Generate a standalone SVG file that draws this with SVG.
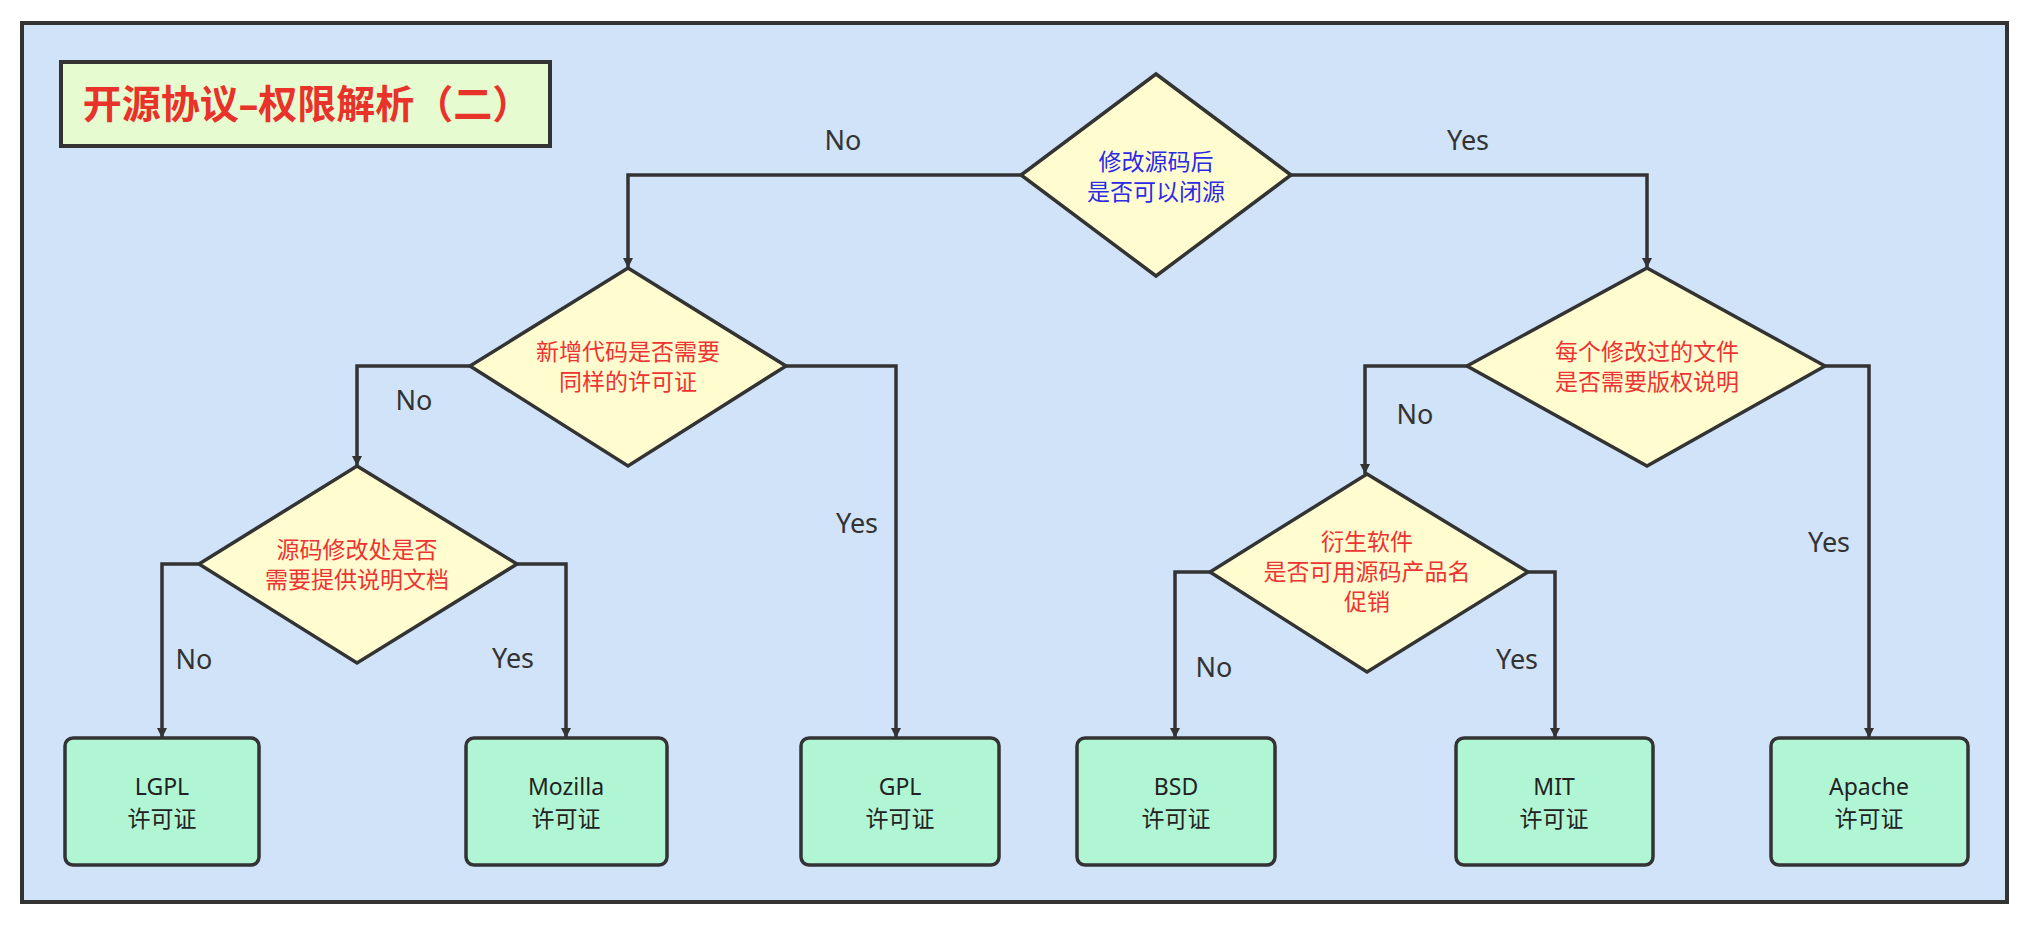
<svg xmlns="http://www.w3.org/2000/svg" width="2030" height="930" viewBox="0 0 2030 930">
<defs>
<marker id="ah" viewBox="0 0 10 10" refX="10" refY="5" markerWidth="10" markerHeight="20" markerUnits="userSpaceOnUse" orient="auto"><path d="M0,0 L10,5 L0,10 z" fill="#333"/></marker>
<style>
text{font-family:"Noto Sans","Noto Sans CJK SC",sans-serif;text-anchor:middle}
.d{fill:#fffdd0;stroke:#333;stroke-width:3.5}
.b{fill:#b1f6d4;stroke:#333;stroke-width:3.5}
.dt{fill:#ee3333;font-size:23px}
.bt{fill:#222;font-size:23px}
.l{fill:#333;font-size:27px}
.c{fill:none;stroke:#333;stroke-width:3.5;marker-end:url(#ah)}
</style>
</defs>
<rect x="0" y="0" width="2030" height="930" fill="#fff"/>
<rect x="22" y="23" width="1985" height="879" fill="#d0e3f9" stroke="#333" stroke-width="4"/>
<g id="title"><rect x="61" y="62" width="489" height="84" fill="#e7fbd0" stroke="#333" stroke-width="4"/><text x="307" y="118" fill="#e8322a" font-size="39" font-weight="bold">开源协议–权限解析（二）</text></g>
<g id="connectors">
<path class="c" d="M1021,175 H628 V268"/>
<path class="c" d="M1291,175 H1647 V268"/>
<path class="c" d="M470,366 H357 V466"/>
<path class="c" d="M786,366 H896 V738"/>
<path class="c" d="M199,564 H162 V738"/>
<path class="c" d="M517,564 H566 V738"/>
<path class="c" d="M1467,366 H1365 V474"/>
<path class="c" d="M1825,366 H1869 V738"/>
<path class="c" d="M1210,572 H1175 V738"/>
<path class="c" d="M1528,572 H1555 V738"/>
<text class="l" x="843" y="150">No</text>
<text class="l" x="1468" y="150">Yes</text>
<text class="l" x="414" y="410">No</text>
<text class="l" x="857" y="533">Yes</text>
<text class="l" x="194" y="669">No</text>
<text class="l" x="513" y="668">Yes</text>
<text class="l" x="1415" y="424">No</text>
<text class="l" x="1829" y="552">Yes</text>
<text class="l" x="1214" y="677">No</text>
<text class="l" x="1517" y="669">Yes</text>
</g>
<g id="q1"><polygon class="d" points="1156,74 1291,175 1156,276 1021,175"/><text class="dt" x="1156" y="170" style="fill:#2a2ae8">修改源码后</text><text class="dt" x="1156" y="200" style="fill:#2a2ae8">是否可以闭源</text></g>
<g id="q2"><polygon class="d" points="628,268 786,366 628,466 470,366"/><text class="dt" x="628" y="360">新增代码是否需要</text><text class="dt" x="628" y="390">同样的许可证</text></g>
<g id="q3"><polygon class="d" points="357,466 517,564 357,663 199,564"/><text class="dt" x="357" y="558">源码修改处是否</text><text class="dt" x="357" y="588">需要提供说明文档</text></g>
<g id="q4"><polygon class="d" points="1647,268 1825,366 1647,466 1467,366"/><text class="dt" x="1647" y="360">每个修改过的文件</text><text class="dt" x="1647" y="390">是否需要版权说明</text></g>
<g id="q5"><polygon class="d" points="1367,474 1528,572 1367,672 1210,572"/><text class="dt" x="1367" y="550">衍生软件</text><text class="dt" x="1367" y="580">是否可用源码产品名</text><text class="dt" x="1367" y="610">促销</text></g>
<g id="lgpl"><rect class="b" x="65" y="738" width="194" height="127" rx="8"/><text class="bt" x="162" y="795">LGPL</text><text class="bt" x="162" y="827">许可证</text></g>
<g id="mozilla"><rect class="b" x="466" y="738" width="201" height="127" rx="8"/><text class="bt" x="566" y="795">Mozilla</text><text class="bt" x="566" y="827">许可证</text></g>
<g id="gpl"><rect class="b" x="801" y="738" width="198" height="127" rx="8"/><text class="bt" x="900" y="795">GPL</text><text class="bt" x="900" y="827">许可证</text></g>
<g id="bsd"><rect class="b" x="1077" y="738" width="198" height="127" rx="8"/><text class="bt" x="1176" y="795">BSD</text><text class="bt" x="1176" y="827">许可证</text></g>
<g id="mit"><rect class="b" x="1456" y="738" width="197" height="127" rx="8"/><text class="bt" x="1554" y="795">MIT</text><text class="bt" x="1554" y="827">许可证</text></g>
<g id="apache"><rect class="b" x="1771" y="738" width="197" height="127" rx="8"/><text class="bt" x="1869" y="795">Apache</text><text class="bt" x="1869" y="827">许可证</text></g>
</svg>
